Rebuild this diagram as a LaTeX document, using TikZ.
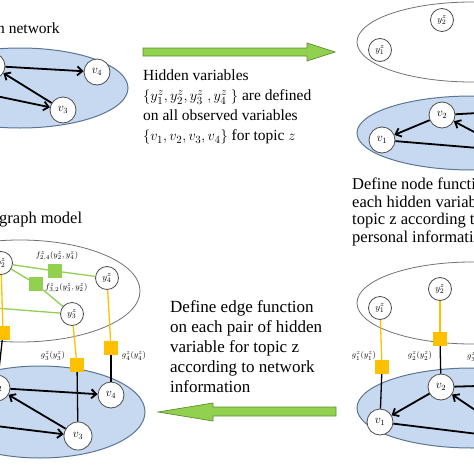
\documentclass[tikz,border=0pt]{standalone}
\usepackage{fontspec}
\setmainfont{Liberation Serif}
\usetikzlibrary{arrows.meta}
\definecolor{skyfill}{HTML}{C6D9F1}
\definecolor{skyline}{HTML}{5B7594}
\definecolor{leaf}{HTML}{92D050}
\definecolor{leafdark}{HTML}{5E8E2E}
\definecolor{amber}{HTML}{FFC000}
\tikzset{
  obs/.style={circle, draw=black!70, fill=white, line width=0.8pt, minimum size=26pt, inner sep=0pt, font=\fontsize{12}{12}\selectfont},
  hid/.style={circle, draw=black!70, fill=white, line width=0.8pt, minimum size=23pt, inner sep=0pt, font=\fontsize{9.5}{9.5}\selectfont},
  fsq/.style={rectangle, fill=leaf, minimum size=14pt, inner sep=0pt},
  gsq/.style={rectangle, fill=amber, minimum size=14pt, inner sep=0pt},
  arr/.style={line width=1.8pt, -{Straight Barb[length=5pt,width=9pt]}},
  stem/.style={line width=1.3pt},
  ambl/.style={amber, line width=1.3pt},
  leafl/.style={leaf, line width=1.3pt},
  sky/.style={fill=skyfill, draw=skyline, line width=1pt},
  cloud/.style={fill=white, draw=black!55, line width=0.8pt},
  lbl/.style={inner sep=0pt, font=\fontsize{8.5}{8.5}\selectfont},
  caption/.style={inner sep=0pt, align=left, anchor=north west, font=\fontsize{17}{20}\selectfont},
  bigarrow/.style={fill=leaf, draw=leafdark, line width=0.7pt}
}

\begin{document}
\begin{tikzpicture}[x=1pt, y=-1pt]
\useasboundingbox (0,0) rectangle (474,474);
\clip (0,0) rectangle (474,474);

% layers: observed (blue) and hidden (white)
\draw[sky] (20,88) ellipse [x radius=108pt, y radius=40pt];
\draw[cloud] (472,42) ellipse [x radius=115pt, y radius=40pt];
\draw[sky] (472,133) ellipse [x radius=115pt, y radius=37pt];
\draw[cloud] (20,291) ellipse [x radius=120pt, y radius=51pt];
\draw[sky] (40,412) ellipse [x radius=105pt, y radius=46pt];
\draw[cloud] (472,303) ellipse [x radius=115pt, y radius=41pt];
\draw[sky] (472,408) ellipse [x radius=115pt, y radius=40pt];

% big arrows
\draw[bigarrow] (143,48) -- (307,48) -- (307,43) -- (335,52) -- (307,61) -- (307,56) -- (143,56) -- cycle;
\draw[bigarrow] (336,407) -- (213,407) -- (213,403) -- (158,412) -- (213,421) -- (213,416) -- (336,416) -- cycle;

% texts
\node[inner sep=0pt, anchor=base west, font=\fontsize{15.5}{20}\selectfont] (ttl1) at (-3,33) {n network};
\node[inner sep=0pt, anchor=base west, font=\fontsize{16.5}{20}\selectfont] (ttl2) at (-1,223) {graph model};
\node[caption, font=\fontsize{15.5}{20}\selectfont] (txt1) at (143,70) {Hidden variables\\
  $\{y^z_1, y^z_2, y^z_3\ , y^z_4\ \}$ are defined\\
  on all observed variables\\
  $\{v_1, v_2, v_3, v_4\}$ for topic $z$};
\node[caption, font=\fontsize{16.5}{17.5}\selectfont] (txt2) at (352,178) {Define node function\\
  each hidden variable\\
  topic z according to\\
  personal information};
\node[caption] (txt3) at (170,300) {Define edge function\\
  on each pair of hidden\\
  variable for topic z\\
  according to network\\
  information};

% top left: network
\node[obs] (a2) at (-8,66) {};
\node[obs] (a4) at (97,72) {$v_4$};
\node[obs] (a3) at (63,110) {$v_3$};
\coordinate (a0) at (-4,96);
\draw[arr] (a2) -- (a4);
\draw[arr] (a3) -- (a2);
\draw[arr] (a0) -- (a3);

% top right: hidden variables defined
\node[hid] (b1y) at (380,50) {$y^z_1$};
\node[hid] (b2y) at (442,20) {$y^z_2$};
\node[obs] (b1) at (382,140) {$v_1$};
\node[obs] (b2) at (442,115) {$v_2$};
\coordinate (b0) at (478,134);
\coordinate (b2o) at (478,113);
\coordinate (b1o) at (478,148);
\draw[arr] (b2) -- (b1);
\draw[arr] (b0) -- (b2);
\draw[stem, line width=1.8pt] (b2) -- (b2o);
\draw[stem, line width=1.8pt] (b1) -- (b1o);

% bottom left: factor graph
\node[hid] (c2y) at (1,263) {$y^z_2$};
\node[hid] (c4y) at (107,278) {$y^z_4$};
\node[hid] (c3y) at (72,314) {$y^z_3$};
\node[fsq] (f24) at (55,271) {};
\node[fsq] (f32) at (36,284) {};
\coordinate (cf) at (-5,308);
\draw[leafl] (c2y) -- (f24) -- (c4y);
\draw[leafl] (c2y) -- (f32) -- (c3y);
\draw[leafl] (cf) -- (c3y);
\node[lbl] (f24l) at (57,256) {$f^z_{2,4}(y^z_2, y^z_4)$};
\node[lbl, anchor=west] (f32l) at (45,288) {$f^z_{3,2}(y^z_3, y^z_2)$};
\node[gsq] (g2c) at (3,333) {};
\node[gsq] (g3c) at (77,365) {};
\node[gsq] (g4c) at (111,348) {};
\node[lbl] (g3l) at (53,356) {$g^z_3(y^z_3)$};
\node[lbl] (g4l) at (134,356) {$g^z_4(y^z_4)$};
\node[obs] (c2) at (-3,388) {$v_2$};
\node[obs] (c4) at (111,395) {$v_4$};
\node[obs, minimum size=28pt] (c3) at (78,436) {$v_3$};
\coordinate (c0) at (-4,426);
\draw[arr] (c2) -- (c4);
\draw[arr] (c3) -- (c2);
\draw[arr] (c0) -- (c3);

% bottom right: node functions
\node[hid] (d1y) at (380,308) {$y^z_1$};
\node[hid] (d2y) at (440,289) {$y^z_2$};
\node[gsq] (g1d) at (382,367) {};
\node[gsq] (g2d) at (440,339) {};
\node[lbl] (g1l) at (364,356) {$g^z_1(y^z_1)$};
\node[lbl] (g2l) at (420,356) {$g^z_2(y^z_2)$};
\node[lbl, anchor=west] (g3r) at (467,357) {$g^z_3(y^z_3)$};
\node[obs] (d1) at (380,422) {$v_1$};
\node[obs] (d2) at (441,387) {$v_2$};
\coordinate (d0) at (478,412);
\coordinate (d2o) at (478,386);
\coordinate (d1o) at (478,434);
\draw[arr] (d2) -- (d1);
\draw[arr] (d0) -- (d2);
\draw[stem, line width=1.8pt] (d2) -- (d2o);
\draw[stem, line width=1.8pt] (d1) -- (d1o);

% hidden -- factor -- observed
\foreach \h/\g/\v in {c2y/g2c/c2, c3y/g3c/c3, c4y/g4c/c4, d1y/g1d/d1, d2y/g2d/d2}{
  \draw[ambl] (\h) -- (\g);
  \draw[stem] (\g) -- (\v);
}
\end{tikzpicture}
\end{document}
